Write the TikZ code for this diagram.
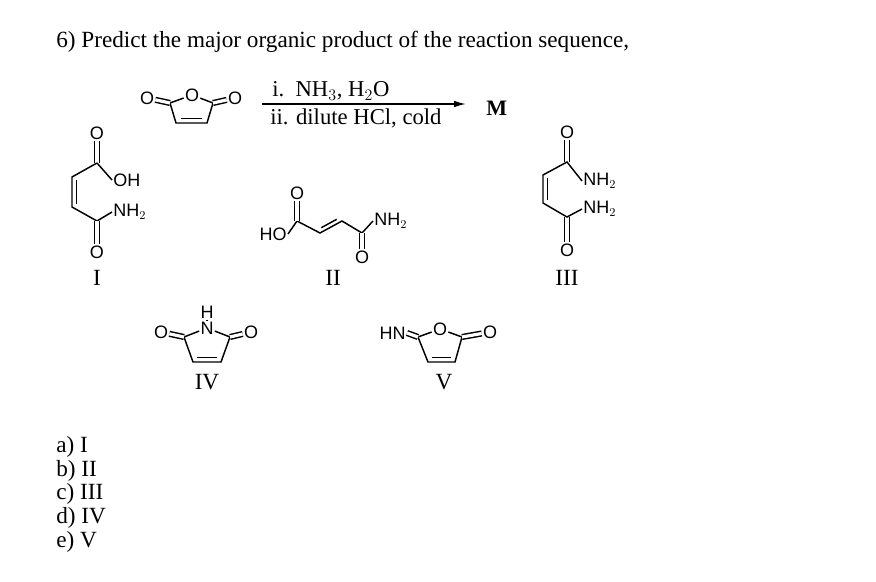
\documentclass[tikz,border=0pt]{standalone}
\usepackage{fontspec}
\setmainfont{Liberation Serif}
\setsansfont{Liberation Sans}
\usetikzlibrary{calc,arrows.meta}
\begin{document}
\begin{tikzpicture}[x=0.75pt,y=-0.75pt,
  atm/.style={font=\sffamily\fontsize{13.5}{13.5}\selectfont,inner sep=0.8pt},
  lab/.style={font=\fontsize{17.4}{17.4}\selectfont,inner sep=0pt},
  bd/.style={line width=1.1pt},
  db/.style={line width=1.1pt,double,double distance=2.4pt}]
\useasboundingbox (0,0) rectangle (876,582);
\node[lab,anchor=west] (title) at (56,42) {6) Predict the major organic product of the reaction sequence,};
% maleic anhydride
\node[atm] (mo) at (192,95) {O};
\node[atm] (mol) at (147,98) {O};
\node[atm] (mor) at (235,98) {O};
\coordinate (m2) at (170,103); \coordinate (m5) at (213,103);
\coordinate (m3) at (176,123); \coordinate (m4) at (207,123);
\draw[bd] (m2)--(mo)--(m5)--(m4)--(m3)--(m2);
\draw[db] (m2)--(mol); \draw[db] (m5)--(mor);
\draw[bd] ($(m3)!0.15!(m4)+(0,-4.5)$)--($(m4)!0.15!(m3)+(0,-4.5)$);
% arrow
\coordinate (a1) at (262,104);
\node[lab,anchor=west,font=\fontsize{16.5}{16.5}\selectfont\bfseries] (M) at (486,108) {M};
\draw[line width=1.1pt,-{Latex[length=9pt,width=5pt]}] (a1)--($(M.west)+(-20,-4)$) coordinate (a2);
\node[lab,anchor=west,font=\fontsize{17}{17}\selectfont] (r1) at (272,91) {i.\ \ NH$_3$, H$_2$O};
\node[lab,anchor=west,font=\fontsize{17}{17}\selectfont] (r2) at (270,118) {ii. dilute HCl, cold};
% I
\node[atm] (Io1) at (97,133) {O};
\coordinate (I1) at (97,163);
\node[atm,anchor=west] (Ioh) at (112,180) {OH};
\coordinate (I2) at (72,177); \coordinate (I3) at (72,207);
\coordinate (I4) at (97,221);
\node[atm,anchor=west] (In) at (112,212) {NH$_2$};
\node[atm] (Io2) at (97,252) {O};
\draw[db] (I1)--(Io1); \draw[bd] (I1)--(Ioh.west); \draw[bd] (I1)--(I2)--(I3)--(I4)--(In.west);
\draw[bd] ($(I2)+(4.5,3)$)--($(I3)+(4.5,-3)$);
\draw[db] (I4)--(Io2);
\node[lab] (L1) at (97,278) {I};
% II
\node[atm,anchor=east] (IIho) at (288,234) {HO};
\coordinate (II1) at (297,221); \node[atm] (IIo1) at (297,193) {O};
\coordinate (II2) at (320,233); \coordinate (II3) at (342,221); \coordinate (II4) at (362,233);
\node[atm] (IIo2) at (362,257) {O};
\node[atm,anchor=west] (IIn) at (373,221) {NH$_2$};
\draw[bd] (IIho.east)--(II1)--(II2)--(II3)--(II4)--(IIn.west);
\draw[db] (II1)--(IIo1); \draw[db] (II4)--(IIo2);
\draw[bd] ($(II2)!0.15!(II3)+(-2,-3.5)$)--($(II3)!0.15!(II2)+(-2,-3.5)$);
\node[lab] (L2) at (333,278) {II};
% III
\node[atm] (o31) at (567,132) {O};
\coordinate (c31) at (567,162); \coordinate (c32) at (543,175);
\coordinate (c33) at (543,203); \coordinate (c34) at (567,217);
\node[atm] (o32) at (567,250) {O};
\node[atm,anchor=west] (n31) at (582,181) {NH$_2$};
\node[atm,anchor=west] (n32) at (582,209) {NH$_2$};
\draw[db] (c31)--(o31); \draw[db] (c34)--(o32);
\draw[bd] (n31.west)--(c31)--(c32)--(c33)--(c34)--(n32.west);
\draw[bd] ($(c32)+(4.5,3)$)--($(c33)+(4.5,-3)$);
\node[lab] (L3) at (567,278) {III};
% IV
\node[atm] (n4) at (207,328) {N};
\node[atm] (h4) at (207,312) {H};
\coordinate (c42) at (184,337); \coordinate (c45) at (230,337);
\coordinate (c43) at (193,362); \coordinate (c44) at (221,362);
\node[atm] (o41) at (161,332) {O}; \node[atm] (o42) at (251,332) {O};
\draw[bd] (h4)--(n4); \draw[bd] (c42)--(n4)--(c45)--(c44)--(c43)--(c42);
\draw[db] (c42)--(o41); \draw[db] (c45)--(o42);
\draw[bd] ($(c43)!0.15!(c44)+(0,-4.5)$)--($(c44)!0.15!(c43)+(0,-4.5)$);
\node[lab] (L4) at (207,382) {IV};
% V
\node[atm] (o5) at (440,329) {O};
\coordinate (c52) at (418,337); \coordinate (c55) at (462,337);
\coordinate (c53) at (428,362); \coordinate (c54) at (455,362);
\node[atm,anchor=east] (hn5) at (407,333) {HN};
\node[atm] (o52) at (490,332) {O};
\draw[bd] (c52)--(o5)--(c55)--(c54)--(c53)--(c52);
\draw[db] (c52)--(hn5.east); \draw[db] (c55)--(o52);
\draw[bd] ($(c53)!0.15!(c54)+(0,-4.5)$)--($(c54)!0.15!(c53)+(0,-4.5)$);
\node[lab] (L5) at (444,382) {V};
% answers
\node[lab,anchor=west] (aa) at (56,447) {a) I};
\node[lab,anchor=west] (ab) at (56,471) {b) II};
\node[lab,anchor=west] (ac) at (56,494) {c) III};
\node[lab,anchor=west] (ad) at (56,518) {d) IV};
\node[lab,anchor=west] (ae) at (56,542) {e) V};
\end{tikzpicture}
\end{document}
